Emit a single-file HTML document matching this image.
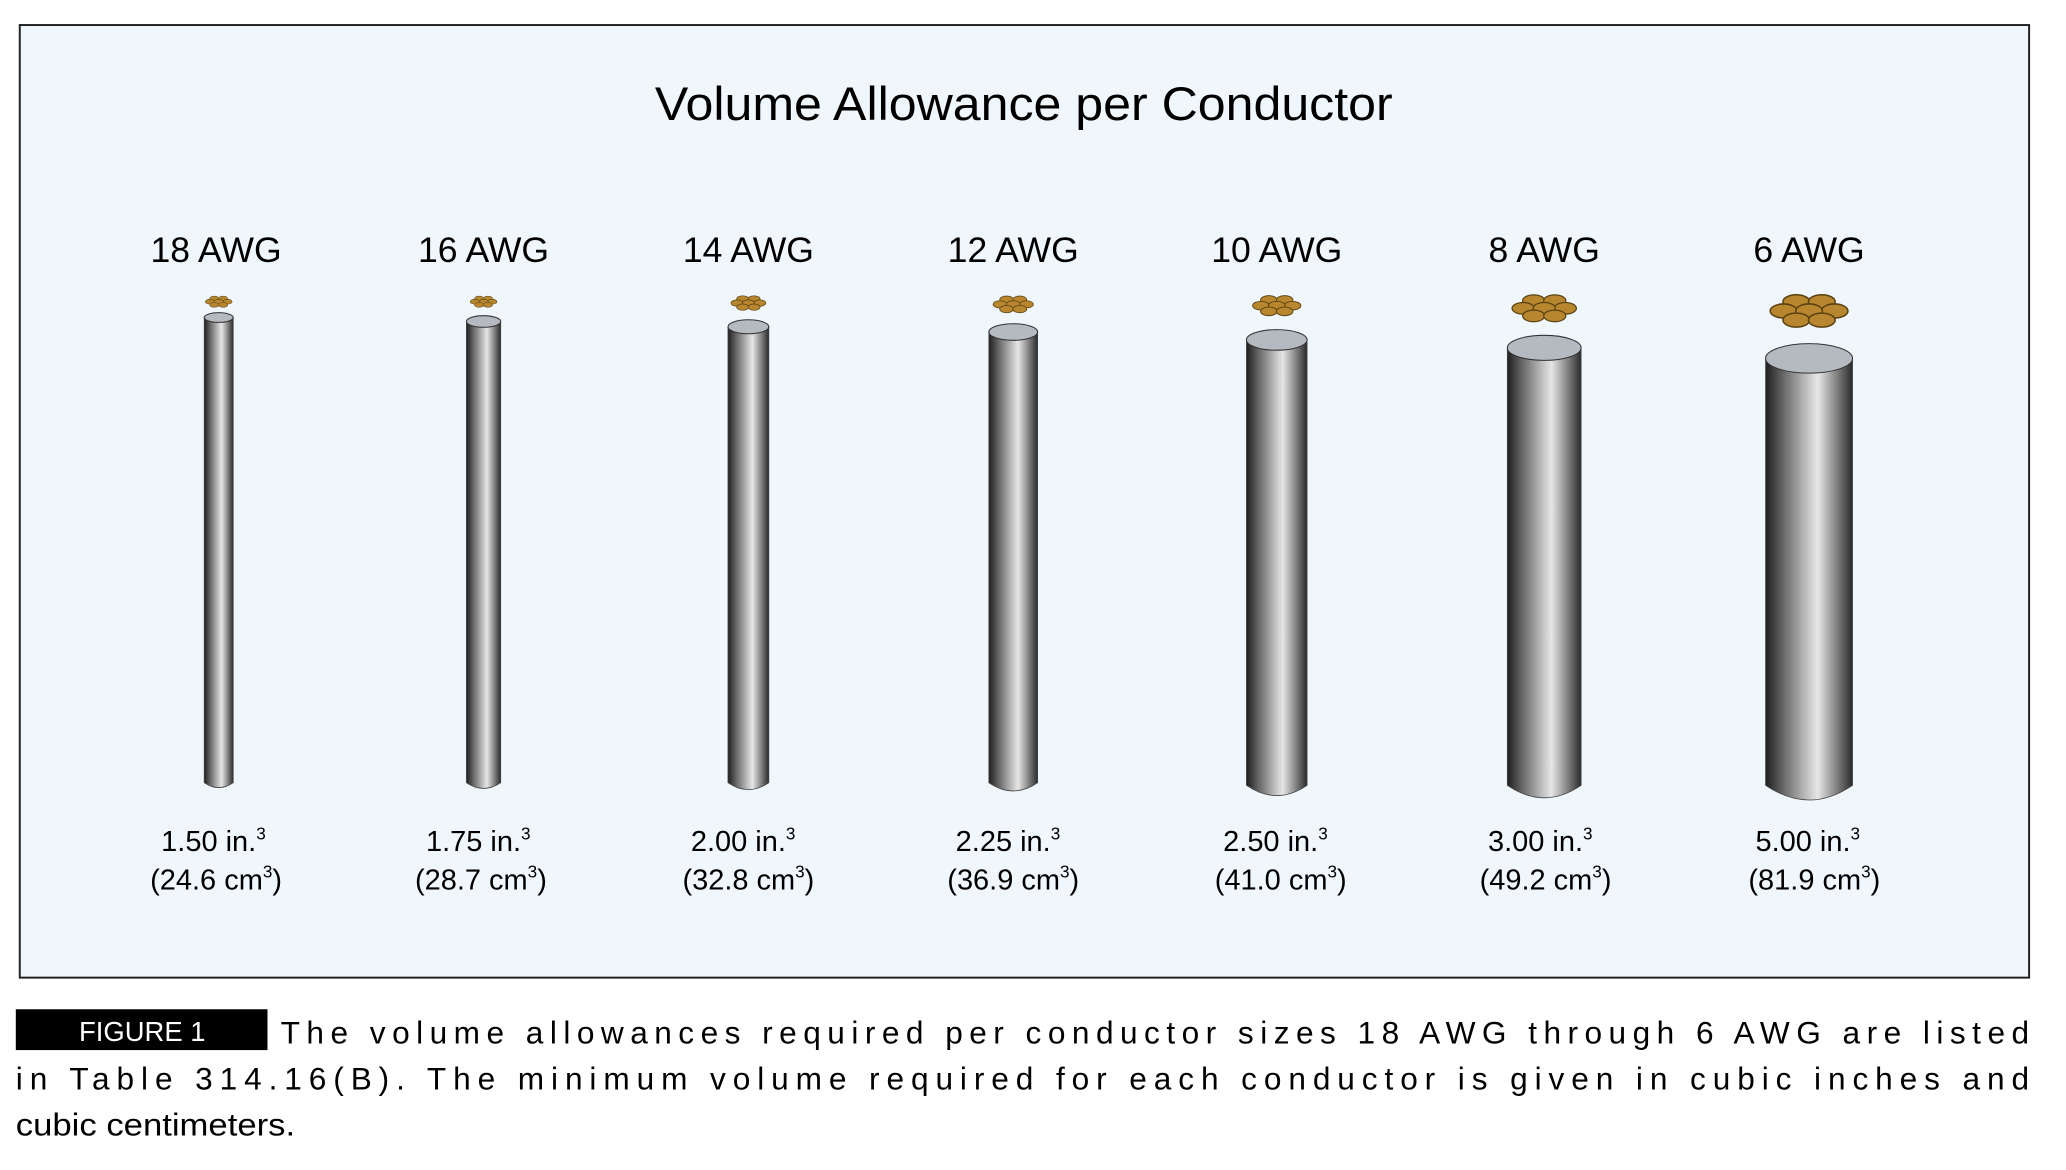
<!DOCTYPE html>
<html><head><style>
html,body{margin:0;padding:0;background:#fff;}
svg{display:block;}
text{font-family:"Liberation Sans",sans-serif;}
</style></head><body>
<svg width="2066" height="1170" viewBox="0 0 1568 888" preserveAspectRatio="none" xmlns="http://www.w3.org/2000/svg" xmlns:xlink="http://www.w3.org/1999/xlink">
<defs>
<linearGradient id="g" x1="0" x2="1" y1="0" y2="0">
<stop offset="0" stop-color="#1e1e1e"/>
<stop offset="0.2" stop-color="#666"/>
<stop offset="0.5" stop-color="#c8c8c8"/>
<stop offset="0.6" stop-color="#e6e6e6"/>
<stop offset="0.8" stop-color="#8a8a8a"/>
<stop offset="1" stop-color="#2a2a2a"/>
</linearGradient>
<g id="s" fill="#b8862e" stroke="#5a4210">
<ellipse cx="-1" cy="-0.72" rx="1.05" ry="0.55" stroke-width="0.12"/>
<ellipse cx="1" cy="-0.72" rx="1.05" ry="0.55" stroke-width="0.12"/>
<ellipse cx="-2" cy="0" rx="1.05" ry="0.55" stroke-width="0.12"/>
<ellipse cx="2" cy="0" rx="1.05" ry="0.55" stroke-width="0.12"/>
<ellipse cx="0" cy="0" rx="1.05" ry="0.55" stroke-width="0.12"/>
<ellipse cx="-1" cy="0.72" rx="1.05" ry="0.55" stroke-width="0.12"/>
<ellipse cx="1" cy="0.72" rx="1.05" ry="0.55" stroke-width="0.12"/>
</g>
</defs>
<rect x="15" y="19" width="1525" height="723" fill="#eff6fc" stroke="#222" stroke-width="1.5"/>
<text x="777" y="91" font-size="36" text-anchor="middle" textLength="560" lengthAdjust="spacingAndGlyphs">Volume Allowance per Conductor</text>

<g font-size="27" text-anchor="middle">
<text x="164" y="199">18 AWG</text>
<text x="367" y="199">16 AWG</text>
<text x="568" y="199">14 AWG</text>
<text x="769" y="199">12 AWG</text>
<text x="969" y="199">10 AWG</text>
<text x="1172" y="199">8 AWG</text>
<text x="1373" y="199">6 AWG</text>
</g>

<g stroke="#444" stroke-width="0.6" fill="url(#g)">
<path d="M155 241 L155 594 Q166 601.5 177 594 L177 241Z"/>
<path d="M354 244 L354 594 Q367 602.8 380 594 L380 244Z"/>
<path d="M552.5 248 L552.5 594 Q568 604.6 583.5 594 L583.5 248Z"/>
<path d="M750.5 252 L750.5 594 Q769 606.6 787.5 594 L787.5 252Z"/>
<path d="M946 258 L946 596 Q969 611.6 992 596 L992 258Z"/>
<path d="M1144 264 L1144 596 Q1172 615 1200 596 L1200 264Z"/>
<path d="M1340 272 L1340 596 Q1373 618.4 1406 596 L1406 272Z"/>
</g>
<g fill="#b5bac1" stroke="#333" stroke-width="0.8">
<ellipse cx="166" cy="241" rx="11" ry="3.7"/>
<ellipse cx="367" cy="244" rx="13" ry="4.4"/>
<ellipse cx="568" cy="248" rx="15.5" ry="5.3"/>
<ellipse cx="769" cy="252" rx="18.5" ry="6.3"/>
<ellipse cx="969" cy="258" rx="23" ry="7.8"/>
<ellipse cx="1172" cy="264" rx="28" ry="9.5"/>
<ellipse cx="1373" cy="272" rx="33" ry="11.2"/>
</g>
<use xlink:href="#s" href="#s" transform="translate(166,229) scale(3.33)"/>
<use xlink:href="#s" href="#s" transform="translate(367,229) scale(3.33)"/>
<use xlink:href="#s" href="#s" transform="translate(568,230) scale(4.33)"/>
<use xlink:href="#s" href="#s" transform="translate(769,231) scale(5)"/>
<use xlink:href="#s" href="#s" transform="translate(969,232) scale(6)"/>
<use xlink:href="#s" href="#s" transform="translate(1172,234) scale(8)"/>
<use xlink:href="#s" href="#s" transform="translate(1373,236) scale(9.67)"/>

<g font-size="22" text-anchor="middle">
<text x="162" y="646">1.50 in.<tspan font-size="13" dy="-9">3</tspan></text>
<text x="363" y="646">1.75 in.<tspan font-size="13" dy="-9">3</tspan></text>
<text x="564" y="646">2.00 in.<tspan font-size="13" dy="-9">3</tspan></text>
<text x="765" y="646">2.25 in.<tspan font-size="13" dy="-9">3</tspan></text>
<text x="968" y="646">2.50 in.<tspan font-size="13" dy="-9">3</tspan></text>
<text x="1169" y="646">3.00 in.<tspan font-size="13" dy="-9">3</tspan></text>
<text x="1372" y="646">5.00 in.<tspan font-size="13" dy="-9">3</tspan></text>
<text x="164" y="675">(24.6 cm<tspan font-size="13" dy="-9">3</tspan><tspan dy="9">)</tspan></text>
<text x="365" y="675">(28.7 cm<tspan font-size="13" dy="-9">3</tspan><tspan dy="9">)</tspan></text>
<text x="568" y="675">(32.8 cm<tspan font-size="13" dy="-9">3</tspan><tspan dy="9">)</tspan></text>
<text x="769" y="675">(36.9 cm<tspan font-size="13" dy="-9">3</tspan><tspan dy="9">)</tspan></text>
<text x="972" y="675">(41.0 cm<tspan font-size="13" dy="-9">3</tspan><tspan dy="9">)</tspan></text>
<text x="1173" y="675">(49.2 cm<tspan font-size="13" dy="-9">3</tspan><tspan dy="9">)</tspan></text>
<text x="1377" y="675">(81.9 cm<tspan font-size="13" dy="-9">3</tspan><tspan dy="9">)</tspan></text>
</g>

<rect x="12" y="766" width="191" height="31" fill="#000"/>
<text x="108" y="790" font-size="21" fill="#fff" text-anchor="middle" textLength="96" lengthAdjust="spacingAndGlyphs">FIGURE 1</text>
<text x="213" y="792" font-size="24" textLength="1327" lengthAdjust="spacing">The volume allowances required per conductor sizes 18 AWG through 6 AWG are listed</text>
<text x="12" y="827" font-size="24" textLength="1528" lengthAdjust="spacing">in Table 314.16(B). The minimum volume required for each conductor is given in cubic inches and</text>
<text x="12" y="862" font-size="24" textLength="212" lengthAdjust="spacingAndGlyphs">cubic centimeters.</text>
</svg>
</body></html>
